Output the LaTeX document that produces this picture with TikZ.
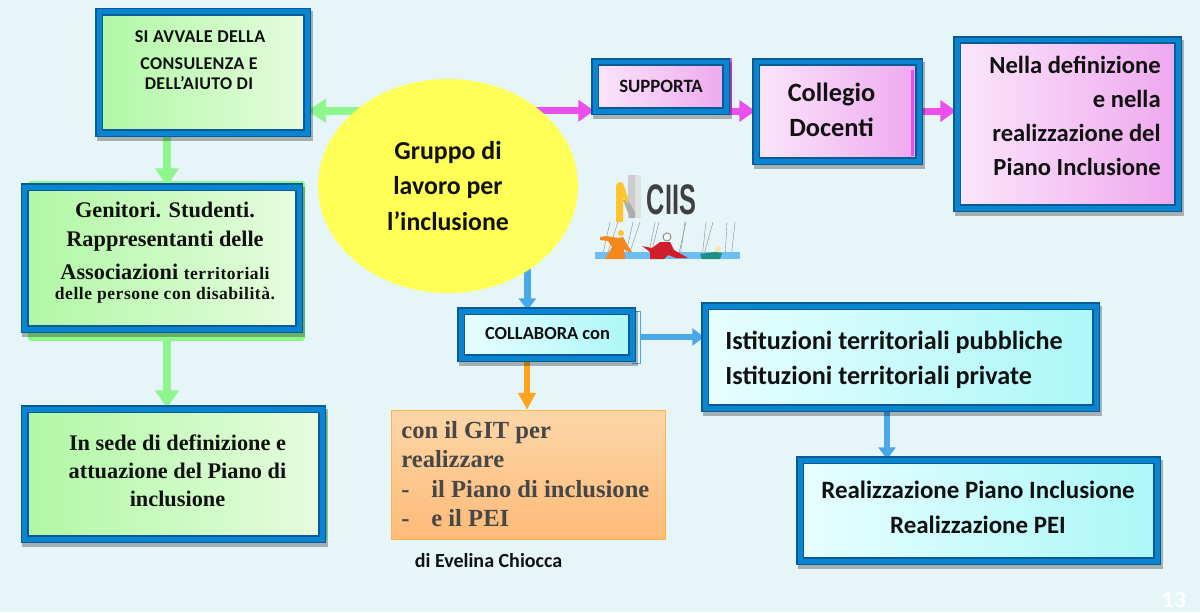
\documentclass[tikz,border=0pt]{standalone}
\usepackage{fontspec}
\setmainfont{Liberation Serif}
\newfontfamily\myCarlito{Carlito}
\newfontfamily\myLato{Lato}
\newfontfamily\myLibSans{Liberation Sans}
\usetikzlibrary{arrows.meta,shapes.geometric}
\definecolor{bg}{HTML}{E6F5F7}
\definecolor{frameO}{HTML}{0A5A96}
\definecolor{frameI}{HTML}{0A85D1}
\definecolor{grn}{HTML}{8EF68C}
\definecolor{mag}{HTML}{EC50EC}
\definecolor{blu}{HTML}{49A9E8}
\definecolor{org}{HTML}{FFA41C}
\definecolor{ink}{HTML}{111111}
\definecolor{AB}{HTML}{B0F8A4}
\definecolor{AC}{HTML}{E6FCDF}
\definecolor{PB}{HTML}{FBE6FB}
\definecolor{PC}{HTML}{EEA8EE}
\definecolor{CB}{HTML}{E8FEFF}
\definecolor{CC}{HTML}{ACF7F8}
\definecolor{ELL}{HTML}{FFFF55}
\definecolor{YLW}{HTML}{FFC42E}
\definecolor{SKY}{HTML}{6FBDF5}
\definecolor{OF}{HTML}{F5871F}
\definecolor{RF}{HTML}{D01F2B}
\definecolor{TF}{HTML}{1F8F86}
\definecolor{JT}{HTML}{FDD6A8}
\definecolor{JB}{HTML}{FDBB78}
\definecolor{JL}{HTML}{FDB440}
\newcommand\fz[2]{\fontsize{#1}{#2}\selectfont}
\pgfdeclarelayer{back}
\pgfsetlayers{back,main}
\tikzset{
  x=0.02cm,y=-0.02cm,
  framebox/.style={rectangle,inner sep=0pt,draw=frameO,line width=0.03cm,double=frameI,double distance=0.10cm,
    preaction={draw=black,draw opacity=.28,line width=0.16cm,transform canvas={xshift=0.03cm,yshift=-0.07cm}}},
  sz/.style 2 args={minimum width=#1*0.02cm-0.16cm,minimum height=#2*0.02cm-0.16cm},
  greenbox/.style={framebox,left color=AB,right color=AC},
  pinkbox/.style={framebox,left color=PB,right color=PC},
  cyanbox/.style={framebox,left color=CB,right color=CC},
  tcal/.style 2 args={inner sep=0pt,text=ink,align=center,font=\myCarlito\bfseries\fz{#1}{#2}},
  tser/.style 2 args={inner sep=0pt,text=ink,align=center,font=\bfseries\fz{#1}{#2}},
  arrowg/.style={draw=grn,line width=0.15cm,-{Triangle[length=0.36cm,width=0.46cm,fill=grn]}},
  arrowm/.style={draw=mag,line width=0.14cm,-{Triangle[length=0.32cm,width=0.42cm,fill=mag]}},
  arrowb/.style={draw=blu,line width=0.13cm,-{Triangle[length=0.24cm,width=0.34cm,fill=blu]}},
  arrowo/.style={draw=org,line width=0.12cm,-{Triangle[length=0.34cm,width=0.34cm,fill=org]}},
  strng/.style={draw=black!45,line width=0.008cm},
}
\begin{document}
\begin{tikzpicture}
\useasboundingbox (0,0) rectangle (1200,612);

% boxes
\node[greenbox,sz={216}{129}] (a) at (203,72.5) {};
\node[greenbox,sz={282}{150}] (b) at (162,258) {};
\node[greenbox,sz={305}{138}] (c) at (173.5,474) {};
\fill[mag] (729,58) rectangle (732,112);
\node[pinkbox,sz={139}{57}] (d) at (660.5,86.5) {};
\node[pinkbox,sz={171}{107}] (e) at (837.5,111.5) {};
\node[pinkbox,sz={229}{176}] (f) at (1067.5,124) {};
\draw[blu,line width=0.02cm] (632,311) -- (640,311) -- (640,363) -- (632,363);
\node[cyanbox,sz={179}{55}] (g) at (546.5,334.5) {};
\node[cyanbox,sz={399}{110}] (h) at (900.5,357) {};
\node[cyanbox,sz={365}{109}] (i) at (978.5,510.5) {};
\node[rectangle,inner sep=0pt,draw=JL,line width=0.03cm,top color=JT,bottom color=JB,
  minimum width=5.48cm,minimum height=2.58cm] (j) at (528.5,475) {};
\fill[mag] (911,70) rectangle (914,156);
\node[ellipse,inner sep=0pt,fill=ELL,minimum width=5.2cm,minimum height=4.28cm] (ell) at (448,186) {};

% connectors, behind the boxes
\coordinate (xab) at (167,0);
\coordinate (ymag) at (0,111);
\coordinate (ygh) at (0,337);
\coordinate (xhi) at (887,0);
\coordinate (xgj) at (527,0);
\begin{pgfonlayer}{back}
\fill[bg] (0,0) rectangle (1200,612);
\fill[grn,rounded corners=0.06cm] (28,181) rectangle (305,341);
\fill[grn] (30,412) rectangle (327,540);
\draw[arrowg] (ell.141) ++(10,0) -- (ell.141 -| a.east);
\draw[arrowg] (xab |- a.south) -- (xab |- b.north);
\draw[arrowg] (xab |- b.south) -- (xab |- c.north);
\draw[arrowm] (ell.39) ++(-10,0) -- (ell.39 -| d.west);
\draw[arrowm] (ymag -| d.east) -- (ymag -| e.west);
\draw[arrowm] (ymag -| e.east) -- (ymag -| f.west);
\draw[arrowb] (ell.-47) ++(0,-10) -- (ell.-47 |- g.north);
\draw[arrowo] (xgj |- g.south) -- (xgj |- j.north);
\draw[arrowb] (640,337) -- (ygh -| h.west);
\draw[arrowb] (xhi |- h.south) -- (xhi |- i.north);
\end{pgfonlayer}

% texts
\node[tcal={10.3}{11}] (ta) at (200,37) {\addfontfeature{LetterSpace=2}SI AVVALE DELLA};
\node[tcal={10.2}{12}] (ta2) at (199,73.5) {\addfontfeature{LetterSpace=2}CONSULENZA E\\[-0.5pt]\addfontfeature{LetterSpace=2}DELL’AIUTO DI};
\node[tser={12.7}{16.5}] (tb) at (165,227) {Genitori. Studenti.\\Rappresentanti delle};
\node[tser={12.7}{12.4}] (tb2) at (165,284) {Associazioni \fz{10}{12}\addfontfeature{LetterSpace=3}territoriali\\[-1pt]\fz{10}{12}\addfontfeature{LetterSpace=3}delle persone con disabilità.};
\node[tser={12.7}{16}] (tc) at (177.5,471) {In sede di definizione e\\attuazione del Piano di\\inclusione};
\node[tcal={10.7}{11}] (td) at (661,86) {SUPPORTA};
\node[tcal={15}{20}] (te) at (831.5,109.5) {Collegio\\Docenti};
\node[tcal={14}{19.2},align=right,anchor=east] (tf) at (1161,116) {Nella definizione\\e nella\\realizzazione del\\Piano Inclusione};
\node[tcal={10.5}{11}] (tg) at (547.5,334) {COLLABORA con};
\node[tcal={14.9}{20},align=left,anchor=west] (th) at (725,360) {Istituzioni territoriali pubbliche\\Istituzioni territoriali private};
\node[tcal={14.2}{20}] (ti) at (978,507.5) {Realizzazione Piano Inclusione\\Realizzazione PEI};
\node[tcal={14.7}{20.3}] (tell) at (448,186) {Gruppo di\\lavoro per\\l’inclusione};
\node[inner sep=0pt,align=left,anchor=west,text=black!72,font=\bfseries\fz{14}{16.6}] (tj) at (401,474) {con il GIT per\\realizzare\\\makebox[0.6cm][l]{-}il Piano di inclusione\\\makebox[0.6cm][l]{-}e il PEI};
\node[tcal={11.4}{12}] (tk) at (488.5,561) {di Evelina Chiocca};
\node[inner sep=0pt,text=white,font=\myLato\bfseries\fz{12}{12}] (pg) at (1174,600) {13};

% logo
\fill[black!20] (628,175) rectangle (635,218);
\fill[black!12] (635,175) rectangle (641,218);
\fill[black!32] (623,200) -- (628,200) -- (635,212) -- (635,218) -- (630,218) -- cycle;
\fill[YLW] (616,222) -- (616,185) -- (619,182) -- (623,183) -- (628,198) -- (628,204) -- (623,198) -- (623,222) -- cycle;
\node[inner sep=0pt,text=black!75,font=\myLibSans\bfseries\fz{18}{18}] (logo) at (671.5,199.5) {\scalebox{0.8}[1.35]{CIIS}};
\foreach \xa/\xb in {610/602,618/606,633/625,640/628,655/648,659/650,685/680,686/678,706/702,713/703,727/725,735/731}
  \draw[strng] (\xa,222) -- (\xb,258);
\fill[SKY] (595,252) rectangle (740,259);
\fill[OF] (600,237) -- (606,236) -- (618,238) -- (623,237) -- (628,246) -- (632,252) -- (629,252) -- (624,249) -- (625,259) -- (605,259) -- (612,247) -- (608,241) -- (600,240) -- cycle;
\fill[YLW] (621,233) circle[radius=3];
\fill[RF] (642,246) -- (652,248) -- (660,242) -- (670,242) -- (674,250) -- (688,258) -- (676,258) -- (668,255) -- (664,259) -- (650,259) -- (650,252) -- cycle;
\draw[fill=white,draw=black!45,line width=0.02cm] (667,237) circle[radius=4];
\fill[TF] (700,254) -- (715,252) -- (722,253) -- (720,259) -- (702,259) -- cycle;
\fill[YLW!40!white] (718,249) circle[radius=3];
\end{tikzpicture}
\end{document}
